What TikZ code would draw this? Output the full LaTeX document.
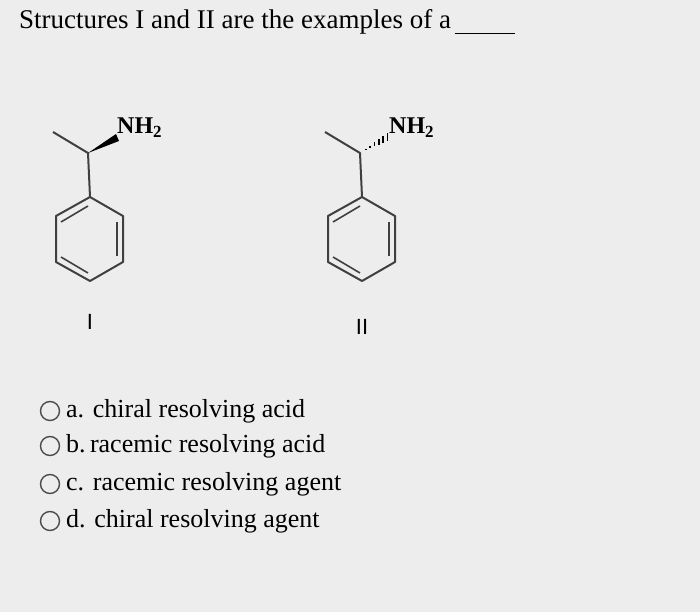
\documentclass[tikz,border=0pt]{standalone}
\usepackage{fontspec}
\usetikzlibrary{calc}
\setmainfont{Liberation Serif}
\setsansfont{Liberation Sans}
\begin{document}
\begin{tikzpicture}[x=1pt,y=-1pt,
  bond/.style={line width=2pt,color=black!75,line join=round},
  txt/.style={anchor=west,inner sep=0pt,font=\fontsize{24}{28}\selectfont},
  opt/.style={anchor=west,inner sep=0pt,font=\fontsize{26}{30}\selectfont},
  radio/.style={circle,draw=black!70,line width=1.4pt,minimum size=19pt,inner sep=0pt}]
\fill[black!7] (0,0) rectangle (700,612);
\useasboundingbox (0,0) rectangle (700,612);
\node[anchor=west,inner sep=0pt,font=\fontsize{27}{30}\selectfont] (title) at (19,22) {Structures I and II are the examples of a};
\draw[line width=0.8pt] (455,33) -- (515,33);
\foreach \ox/\hs/\lab/\ly in {0/0/I/322, 272/1/II/327} {
 \begin{scope}[xshift=\ox]
  \coordinate (c) at (88,153);
  \draw[bond] (53,132) -- (c) -- (90,197);
  \draw[bond] (90,197) -- (123,216) -- (123,262) -- (90,281) -- (56,262) -- (56,216) -- cycle;
  \draw[bond,line width=1.6pt] (61,222) -- (88,206);
  \draw[bond,line width=1.6pt] (117,222) -- (117,256);
  \draw[bond,line width=1.6pt] (61,257) -- (88,273);
  \ifnum\hs=0
   \fill[black] (c) -- (116,134) -- (119,141) -- cycle;
  \else
   \foreach \t in {0.2,0.35,...,1.0} \draw[black,line width=1.5pt] ($(c)!\t!(117,136)+(0,-4*\t)$) -- ($(c)!\t!(117,136)+(0,4*\t)$);
  \fi
  \node[txt] (nh\lab) at (117,128) {\textbf{NH}\raisebox{-4pt}{\fontsize{17}{17}\selectfont\textbf{2}}};
  \node[font=\sffamily\fontsize{22}{24}\selectfont] (lab\lab) at (90,\ly) {\lab};
 \end{scope}
}
\foreach \y/\t [count=\i] in {411/a. chiral resolving acid, 446/b.\,racemic resolving acid, 484/c. racemic resolving agent, 521/d. chiral resolving agent} {
 \node[radio] (r\i) at (50,\y) {};
 \node[opt] (o\i) at (66,\y) {\t};
}
\end{tikzpicture}
\end{document}
